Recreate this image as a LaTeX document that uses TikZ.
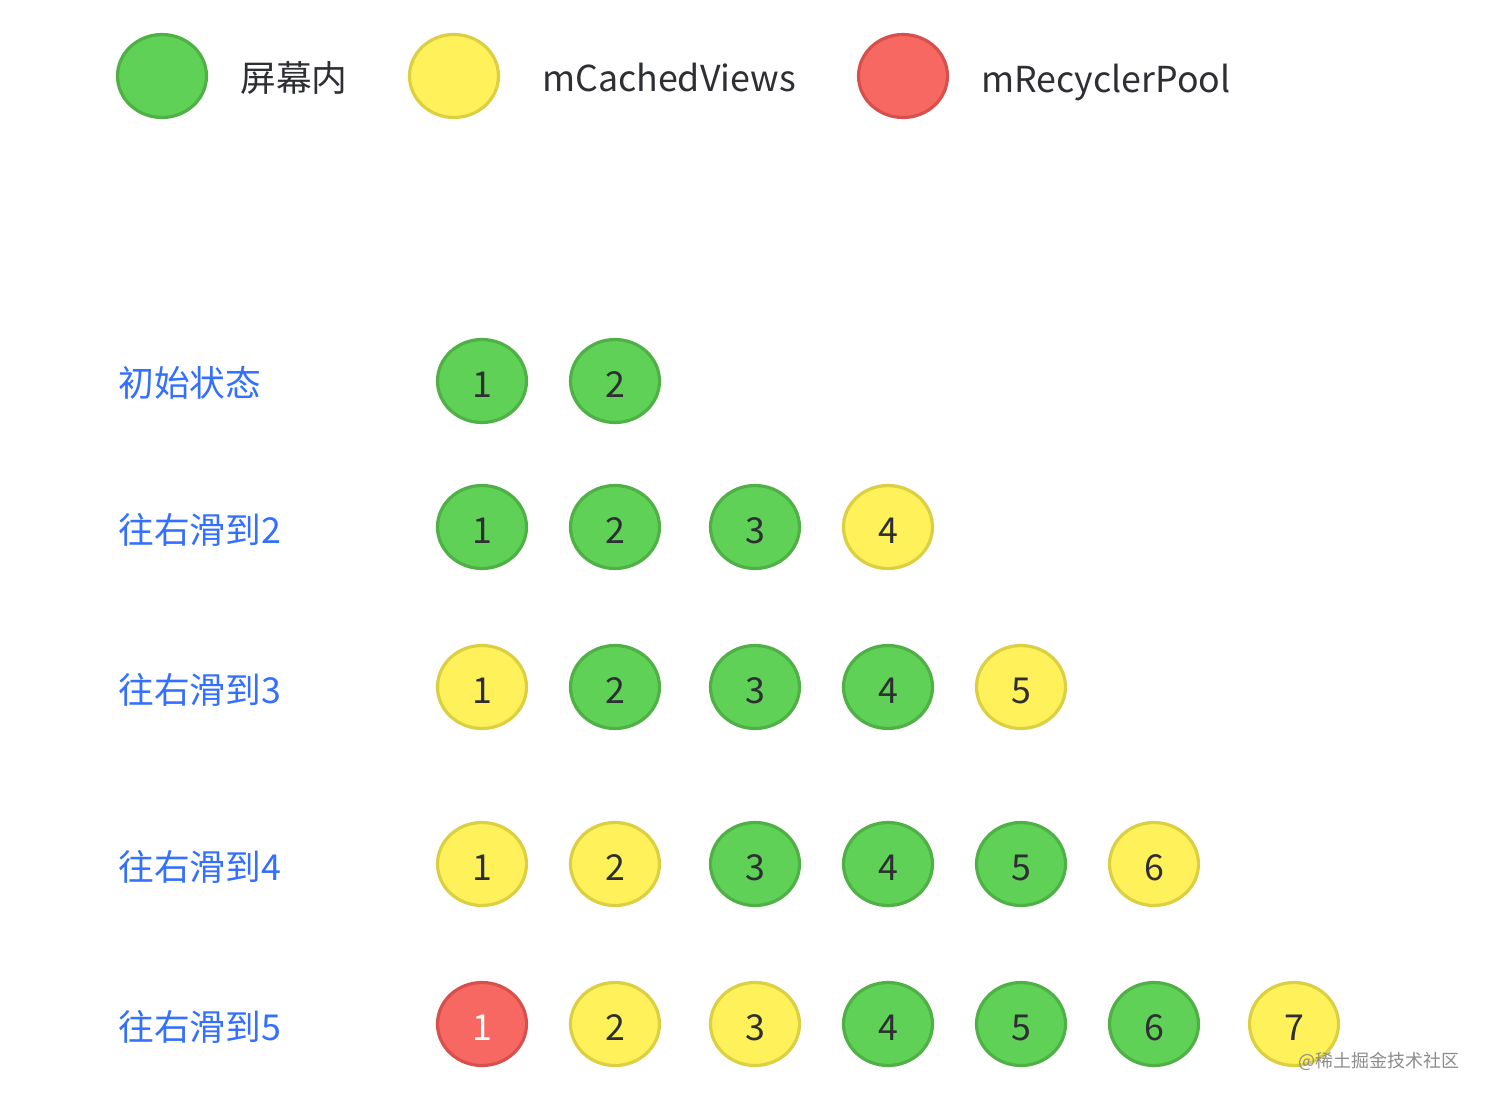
\documentclass[tikz,border=0pt]{standalone}
\usepackage{fontspec}
\setmainfont{Noto Sans CJK SC}
\begin{document}
\begin{tikzpicture}[x=0.75pt,y=-0.75pt,
  ball/.style={ellipse,minimum width=89*0.75pt,minimum height=83*0.75pt,inner sep=0pt,line width=2.4pt,
    font=\fontsize{26.8}{30}\selectfont,text=txt,text height=24pt,text depth=0pt},
  gb/.style={ball,draw=gstroke,fill=gfill},
  yb/.style={ball,draw=ystroke,fill=yfill},
  rb/.style={ball,draw=rstroke,fill=rfill,text=white},
  legtxt/.style={anchor=west,font=\fontsize{26.8}{30}\selectfont,text=txt,inner sep=0pt},
  rowlab/.style={anchor=west,font=\fontsize{26.8}{30}\selectfont,text=lblue,inner sep=0pt}]
\usetikzlibrary{shapes.geometric}
\definecolor{gfill}{HTML}{5FD157}
\definecolor{gstroke}{HTML}{4FB045}
\definecolor{yfill}{HTML}{FFF15A}
\definecolor{ystroke}{HTML}{DCCF42}
\definecolor{rfill}{HTML}{F76863}
\definecolor{rstroke}{HTML}{D8504B}
\definecolor{txt}{HTML}{2D2F33}
\definecolor{lblue}{HTML}{3370FF}
\useasboundingbox[fill=white] (0,0) rectangle (1488,1100);
% legend
\node[gb] (lg) at (162,76) {};
\node[legtxt] (lgt) at (240,78) {屏幕内};
\node[yb] (ly) at (454,76) {};
\node[legtxt] (lyt) at (542,78) {mCachedViews};
\node[rb] (lr) at (903,76) {};
\node[legtxt,text depth=0pt] (lrt) at (981,78) {mRecyclerPool};
% row labels
\node[rowlab] (r1) at (118,383) {初始状态};
\node[rowlab] (r2) at (118,530) {往右滑到2};
\node[rowlab] (r3) at (118,690) {往右滑到3};
\node[rowlab] (r4) at (118,867) {往右滑到4};
\node[rowlab] (r5) at (118,1027) {往右滑到5};
% row 1
\node[gb] (a1) at (482,381) {1};
\node[gb] (a2) at (615,381) {2};
% row 2
\node[gb] (b1) at (482,527) {1};
\node[gb] (b2) at (615,527) {2};
\node[gb] (b3) at (755,527) {3};
\node[yb] (b4) at (888,527) {4};
% row 3
\node[yb] (c1) at (482,687) {1};
\node[gb] (c2) at (615,687) {2};
\node[gb] (c3) at (755,687) {3};
\node[gb] (c4) at (888,687) {4};
\node[yb] (c5) at (1021,687) {5};
% row 4
\node[yb] (d1) at (482,864) {1};
\node[yb] (d2) at (615,864) {2};
\node[gb] (d3) at (755,864) {3};
\node[gb] (d4) at (888,864) {4};
\node[gb] (d5) at (1021,864) {5};
\node[yb] (d6) at (1154,864) {6};
% row 5
\node[rb] (e1) at (482,1024) {1};
\node[yb] (e2) at (615,1024) {2};
\node[yb] (e3) at (755,1024) {3};
\node[gb] (e4) at (888,1024) {4};
\node[gb] (e5) at (1021,1024) {5};
\node[gb] (e6) at (1154,1024) {6};
\node[yb] (e7) at (1294,1024) {7};
% watermark
\node[anchor=east,inner sep=0pt,font=\fontsize{13.5}{15}\selectfont,text=black!45] (wm) at (1460,1061) {@稀土掘金技术社区};
\end{tikzpicture}
\end{document}
